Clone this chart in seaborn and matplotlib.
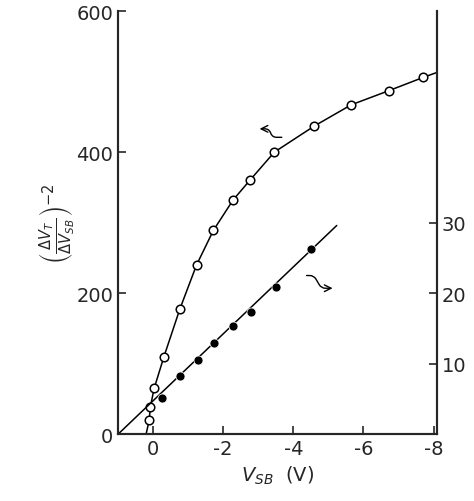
import matplotlib
matplotlib.use("Agg")
import matplotlib.pyplot as plt
import seaborn as sns

sns.set_theme(style="ticks")
plt.rcParams['font.family'] = ['DejaVu Sans']

# open circles, left axis
open_v = [0.11, 0.08, -0.03, -0.31, -0.76, -1.24, -1.72, -2.28, -2.76, -3.46, -4.6, -5.65, -6.72, -7.71]
open_y = [20, 38, 65, 110, 177, 240, 289, 332, 360, 400, 437, 467, 487, 506]
# filled circles, right axis
fill_v = [-0.25, -0.76, -1.27, -1.75, -2.28, -2.79, -3.52, -4.5]
fill_y = [5.2, 8.2, 10.5, 13.0, 15.3, 17.4, 20.9, 26.2]
# fitted lines
curve_v = [0.2, 0.11, 0.08, -0.03, -0.31, -0.76, -1.24, -1.72, -2.28, -2.76, -3.46, -4.6, -5.65, -6.72, -7.71, -8.1]
curve_y = [0, 20, 38, 65, 110, 177, 240, 289, 332, 360, 400, 437, 467, 487, 506, 513]
line_v = [1.0, -5.24]
line_y = [0, 29.6]

fig = plt.figure(figsize=(4.74, 5.02), dpi=100)
ax = fig.add_axes([0.249, 0.133, 0.673, 0.843])
ax2 = ax.twinx()

sns.lineplot(x=curve_v, y=curve_y, ax=ax, color='black', lw=1.1, sort=False)
sns.scatterplot(x=open_v, y=open_y, ax=ax, marker='o', facecolor='white',
                edgecolor='black', s=38, linewidth=1.1, zorder=3)
sns.lineplot(x=line_v, y=line_y, ax=ax2, color='black', lw=1.1, sort=False)
sns.scatterplot(x=fill_v, y=fill_y, ax=ax2, marker='o', color='black', s=42, zorder=3)

ax.set_xlim(1.0, -8.1)
ax.set_ylim(0, 600)
ax2.set_ylim(0, 60)
ax.set_xticks([0, -2, -4, -6, -8])
ax.set_xticklabels(['0', '-2', '-4', '-6', '-8'])
ax.set_yticks([0, 200, 400, 600])
ax2.set_yticks([10, 20, 30])
for a in (ax, ax2):
    a.tick_params(direction='in', labelsize=14, length=6, width=1.2)
    for s in a.spines.values():
        s.set_linewidth(1.5)
ax2.spines['top'].set_visible(False)
ax.spines['top'].set_visible(False)

ax.set_xlabel(r'$V_{SB}$  (V)', fontsize=14)
ax.set_ylabel(r'$\left(\frac{\Delta V_T}{\Delta V_{SB}}\right)^{-2}$', fontsize=15, labelpad=0)

ax.annotate('', xy=(-2.96, 433), xytext=(-3.75, 421),
            arrowprops=dict(arrowstyle='->', color='black', lw=1,
                            connectionstyle='arc,angleA=180,angleB=0,armA=12,armB=12,rad=4'))
ax2.annotate('', xy=(-5.2, 20.7), xytext=(-4.3, 22.5),
             arrowprops=dict(arrowstyle='->', color='black', lw=1,
                             connectionstyle='arc,angleA=0,angleB=180,armA=10,armB=14,rad=4'))

plt.savefig('out.png', dpi=100)
